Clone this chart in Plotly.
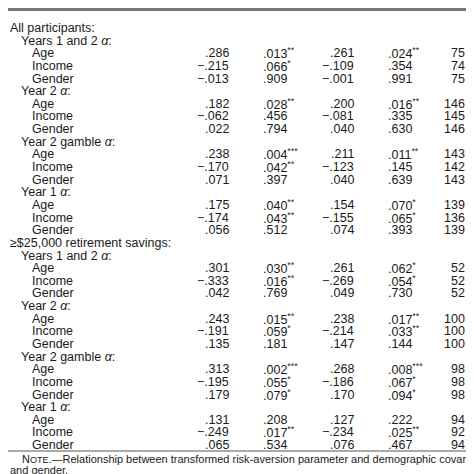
import plotly.graph_objects as go

# Table content, row by row: (indent level, label, b1, p1, b2, p2, n)
groups = ["All participants:", "≥$25,000 retirement savings:"]
subgroups = ["Years 1 and 2 <i>α</i>:", "Year 2 <i>α</i>:", "Year 2 gamble <i>α</i>:", "Year 1 <i>α</i>:"]
items = ["Age", "Income", "Gender"]

coef_a = [[".286", "−.215", "−.013"], [".182", "−.062", ".022"], [".238", "−.170", ".071"], [".175", "−.174", ".056"]]
pval_a = [[".013**", ".066*", ".909"], [".028**", ".456", ".794"], [".004***", ".042**", ".397"], [".040**", ".043**", ".512"]]
coef2_a = [[".261", "−.109", "−.001"], [".200", "−.081", ".040"], [".211", "−.123", ".040"], [".154", "−.155", ".074"]]
pval2_a = [[".024**", ".354", ".991"], [".016**", ".335", ".630"], [".011**", ".145", ".639"], [".070*", ".065*", ".393"]]
n_a = [[75, 74, 75], [146, 145, 146], [143, 142, 143], [139, 136, 139]]

coef_b = [[".301", "−.333", ".042"], [".243", "−.191", ".135"], [".313", "−.195", ".179"], [".131", "−.249", ".065"]]
pval_b = [[".030**", ".016**", ".769"], [".015**", ".059*", ".181"], [".002***", ".055*", ".079*"], [".208", ".017**", ".534"]]
coef2_b = [[".261", "−.269", ".049"], [".238", "−.214", ".147"], [".268", "−.186", ".170"], [".127", "−.234", ".076"]]
pval2_b = [[".062*", ".054*", ".730"], [".017**", ".033**", ".144"], [".008***", ".067*", ".094*"], [".222", ".025**", ".467"]]
n_b = [[52, 52, 52], [100, 100, 100], [98, 98, 98], [94, 92, 94]]

note_lines = ["N<span style='font-size:9px'>OTE</span>.—Relationship between transformed risk-aversion parameter and demographic covariates age, income,",
              "and gender.", "*<i>p</i>< .1."]


def sup(p):
    s = p.rstrip("*")
    stars = p[len(s):]
    return s + (f"<sup>{stars}</sup>" if stars else "")


rows = []
for g, (cb, pb, cb2, pb2, nn) in zip(groups, [(coef_a, pval_a, coef2_a, pval2_a, n_a),
                                            (coef_b, pval_b, coef2_b, pval2_b, n_b)]):
    rows.append((0, g, None))
    for k, sg in enumerate(subgroups):
        rows.append((1, sg, None))
        for j, it in enumerate(items):
            rows.append((2, it, (cb[k][j], pb[k][j], cb2[k][j], pb2[k][j], nn[k][j])))

W = H = 474
FONT = dict(family="Liberation Sans, Arial", size=12.5, color="#1a1a1a")
ann = []
y0, dy = 20, 12.64
for i, (lvl, label, vals) in enumerate(rows):
    y = 1 - (y0 + i * dy) / H
    ann.append(dict(x=(0 + 11 * lvl) / W, y=y, text=label, xanchor="left"))
    if vals:
        b1, p1, b2, p2, n = vals
        ann.append(dict(x=223 / W, y=y, text=b1, xanchor="right"))
        ann.append(dict(x=253 / W, y=y, text=sup(p1), xanchor="left"))
        ann.append(dict(x=348 / W, y=y, text=b2, xanchor="right"))
        ann.append(dict(x=378 / W, y=y, text=sup(p2), xanchor="left"))
        ann.append(dict(x=459 / W, y=y, text=str(n), xanchor="right"))

for t, px, xp in zip(note_lines, [451, 462, 473], [12, 0, 10]):
    ann.append(dict(x=xp / W, y=1 - px / H, text=t, xanchor="left", font=dict(FONT, size=11)))

for a in ann:
    a.update(xref="paper", yref="paper", yanchor="middle", showarrow=False)
    a.setdefault("font", FONT)

fig = go.Figure()
fig.update_layout(
    width=W, height=H, margin=dict(l=0, r=0, t=0, b=0),
    paper_bgcolor="white", plot_bgcolor="white",
    xaxis=dict(visible=False, range=[0, 1]), yaxis=dict(visible=False, range=[0, 1]),
    annotations=ann,
    shapes=[
        dict(type="rect", xref="paper", yref="paper", x0=0, x1=1, y0=1 - 3 / H, y1=1,
             fillcolor="#777", line_width=0),
        dict(type="line", xref="paper", yref="paper", x0=0, x1=1, y0=1 - 443 / H, y1=1 - 443 / H,
             line=dict(color="#555", width=1.2)),
    ],
)
fig.write_html("out.html")
